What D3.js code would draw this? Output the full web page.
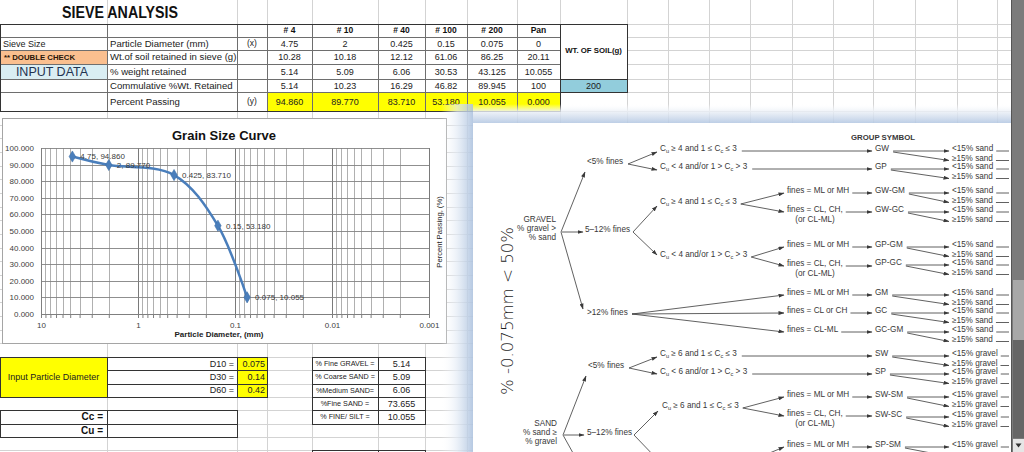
<!DOCTYPE html>
<html lang="en">
<head>
<meta charset="utf-8">
<title>Sieve Analysis</title>
<script src="https://cdnjs.cloudflare.com/ajax/libs/d3/7.8.5/d3.min.js"></script>
<style>
  html, body { margin: 0; padding: 0; background: #fff; overflow: hidden; }
  svg { display: block; font-family: "Liberation Sans", Arial, sans-serif; }
</style>
</head>
<body>
<svg id="sheet" width="1024" height="452"></svg>
<script>
// ---- sieve data ----
var sieves      = ["# 4", "# 10", "# 40", "# 100", "# 200", "Pan"];
var diameters   = [4.75, 2, 0.425, 0.15, 0.075, 0];
var retained    = [10.28, 10.18, 12.12, 61.06, 86.25, 20.11];
var pctRetained = [5.14, 5.09, 6.06, 30.53, 43.125, 10.055];
var cumRetained = [5.14, 10.23, 16.29, 46.82, 89.945, 100];
var pctPassing  = [94.860, 89.770, 83.710, 53.180, 10.055, 0.000];
var soilWeight  = 200;

var rowNames = ["Particle Diameter (mm)", "Wt.of soil retained in sieve (g)",
                "% weight retained", "Commulative %Wt. Retained", "Percent Passing"];

var xTicks = [10, 1, 0.1, 0.01, 0.001];
var yTicks = [0, 10, 20, 30, 40, 50, 60, 70, 80, 90, 100];

var dNames  = ["D10 =", "D30 =", "D60 ="];
var dValues = ["0.075", "0.14", "0.42"];
var fractionNames  = ["% Fine GRAVEL =", "% Coarse SAND =", "%Medium SAND=", "%Fine  SAND =", "% FINE/ SILT ="];
var fractionValues = ["5.14", "5.09", "6.06", "73.655", "10.055"];

// USCS flow chart labels (scanned page)
var gravelSymbols = ["GW", "GP", "GW-GM", "GW-GC", "GP-GM", "GP-GC", "GM", "GC", "GC-GM"];
var sandSymbols   = ["SW", "SP", "SW-SM", "SW-SC", "SP-SM"];

// ---- sheet layout ----
var W = 1024, H = 452;
var colEdges = [0, 107, 237, 267, 312, 378, 425, 467, 517, 560, 627, 668, 709, 750, 792, 833, 873, 915, 957, 997];
var rowEdges = [0, 24, 37, 50, 64, 79, 92, 111];
for (var i = 1; i <= 18; i++) rowEdges.push(111 + i * 13.667);
for (var j = 1; j <= 7; j++) rowEdges.push(357 + j * 13.3);

var svg = d3.select("#sheet");
var px = function (v) { return Math.round(v) + 0.5; };

var defs = svg.append("defs");
var gl = defs.append("linearGradient").attr("id", "glowL").attr("x1", 0).attr("x2", 1).attr("y1", 0).attr("y2", 0);
gl.append("stop").attr("offset", 0).attr("stop-color", "#ffffff").attr("stop-opacity", 0);
gl.append("stop").attr("offset", 0.5).attr("stop-color", "#e3ebf5").attr("stop-opacity", 0.7);
gl.append("stop").attr("offset", 1).attr("stop-color", "#aec3df").attr("stop-opacity", 0.9);
var gt = defs.append("linearGradient").attr("id", "glowT").attr("x1", 0).attr("x2", 0).attr("y1", 0).attr("y2", 1);
gt.append("stop").attr("offset", 0).attr("stop-color", "#ffffff").attr("stop-opacity", 0);
gt.append("stop").attr("offset", 0.35).attr("stop-color", "#eef2f8").attr("stop-opacity", 0.8);
gt.append("stop").attr("offset", 1).attr("stop-color", "#b6c9e3").attr("stop-opacity", 0.9);
defs.append("marker").attr("id", "ah").attr("markerUnits", "userSpaceOnUse")
    .attr("markerWidth", 6).attr("markerHeight", 4).attr("refX", 5.5).attr("refY", 2)
    .attr("orient", "auto")
  .append("path").attr("d", "M0,0L6,2L0,4Z").attr("fill", "#3a3a3a");

// gridlines of the worksheet
var grid = svg.append("g");
grid.selectAll("line.v").data(colEdges.slice(1)).enter().append("line")
    .attr("x1", px).attr("x2", px).attr("y1", 0).attr("y2", H)
    .attr("stroke", "#d3d3d3");
grid.selectAll("line.h").data(rowEdges.slice(1)).enter().append("line")
    .attr("x1", 0).attr("x2", W).attr("y1", px).attr("y2", px)
    .attr("stroke", "#d3d3d3");

// ---- helpers ----
var sheetG = svg.append("g");
function cell(g, x0, x1, y0, y1, fill, stroke) {
    g.append("rect")
        .attr("x", px(x0)).attr("y", px(y0))
        .attr("width", Math.round(x1) - Math.round(x0))
        .attr("height", Math.round(y1) - Math.round(y0))
        .attr("fill", fill || "none")
        .attr("stroke", stroke || "#5a5a5a");
}
function txt(g, x, y, s, size, anchor, weight, fill) {
    return g.append("text")
        .attr("x", x).attr("y", y).attr("dy", "0.35em")
        .attr("font-size", size)
        .attr("text-anchor", anchor || "start")
        .attr("font-weight", weight || "normal")
        .attr("fill", fill || "#222")
        .text(s);
}
function C(i) { return [colEdges[i], colEdges[i + 1]]; }
function R(i) { return [rowEdges[i], rowEdges[i + 1]]; }
function mid(a) { return (a[0] + a[1]) / 2; }

// ---- top table ----
txt(sheetG, 62, 12, "SIEVE ANALYSIS", 17, "start", "bold", "#111")
    .attr("textLength", 116).attr("lengthAdjust", "spacingAndGlyphs");

var fills = {};
fills["0_3"] = "#fabf8f";
fills["0_4"] = "#daeef3";
for (var c = 3; c <= 8; c++) fills[c + "_6"] = "#ffff00";

for (var r = 1; r <= 6; r++) {
    for (var c = 0; c <= 8; c++) {
        var cx = C(c), ry = R(r);
        cell(sheetG, cx[0], cx[1], ry[0], ry[1], fills[c + "_" + r] || "#fff", "#6e6e6e");
    }
}
cell(sheetG, 0, colEdges[9], rowEdges[1], rowEdges[7], "none", "#333");
// weight of soil box
cell(sheetG, colEdges[9], colEdges[10], rowEdges[1], rowEdges[5], "#fff", "#333");
cell(sheetG, colEdges[9], colEdges[10], rowEdges[5], rowEdges[6], "#92cddc", "#333");
txt(sheetG, mid(C(9)), 50, "WT. OF SOIL(g)", 7.8, "middle", "bold", "#111");
txt(sheetG, mid(C(9)), mid(R(5)), String(soilWeight), 9, "middle", "normal", "#1a1a1a");

sieves.forEach(function (s, k) {
    txt(sheetG, mid(C(k + 3)), mid(R(1)), s, 8.5, "middle", "bold", "#111");
});
rowNames.forEach(function (s, k) {
    txt(sheetG, colEdges[1] + 3, mid(R(k + 2)), s, 9.6, "start", "normal", "#222");
});
txt(sheetG, 3, mid(R(2)), "Sieve Size", 9, "start", "normal", "#222");
txt(sheetG, 4, mid(R(3)), "** DOUBLE CHECK", 7.8, "start", "bold", "#2a1608");
txt(sheetG, 52, mid(R(4)), "INPUT DATA", 12.5, "middle", "normal", "#1f3350");
txt(sheetG, mid(C(2)), mid(R(2)), "(x)", 8.5, "middle", "normal", "#222");
txt(sheetG, mid(C(2)), mid(R(6)), "(y)", 8.5, "middle", "normal", "#222");

var tableRows = [
    diameters.map(String),
    retained.map(String),
    pctRetained.map(String),
    cumRetained.map(String),
    pctPassing.map(function (v) { return v.toFixed(3); })
];
tableRows.forEach(function (vals, k) {
    vals.forEach(function (v, n) {
        txt(sheetG, mid(C(n + 3)), mid(R(k + 2)), v, 9, "middle", "normal", "#222");
    });
});

// ---- bottom tables ----
var bEdges = [357, 370.3, 383.6, 396.9, 410.2, 423.5, 436.8, 450.1];
cell(sheetG, 0, colEdges[1], bEdges[0], bEdges[3], "#ffff00", "#333");
txt(sheetG, mid(C(0)), mid([bEdges[0], bEdges[3]]), "Input Particle Diameter", 9, "middle", "normal", "#222");
dNames.forEach(function (s, k) {
    cell(sheetG, colEdges[1], colEdges[2], bEdges[k], bEdges[k + 1], "#fff", "#333");
    cell(sheetG, colEdges[2], colEdges[3], bEdges[k], bEdges[k + 1], "#ffff00", "#333");
    txt(sheetG, colEdges[2] - 3, mid([bEdges[k], bEdges[k + 1]]), s, 9, "end", "normal", "#222");
    txt(sheetG, colEdges[3] - 2, mid([bEdges[k], bEdges[k + 1]]), dValues[k], 9, "end", "normal", "#222");
});
["Cc =", "Cu ="].forEach(function (s, k) {
    cell(sheetG, 0, colEdges[1], bEdges[k + 4], bEdges[k + 5], "#fff", "#333");
    cell(sheetG, colEdges[1], colEdges[2], bEdges[k + 4], bEdges[k + 5], "#fff", "#333");
    txt(sheetG, colEdges[1] - 4, mid([bEdges[k + 4], bEdges[k + 5]]), s, 10, "end", "bold", "#111");
});
fractionNames.forEach(function (s, k) {
    cell(sheetG, colEdges[4], colEdges[5], bEdges[k], bEdges[k + 1], "#fff", "#333");
    cell(sheetG, colEdges[5], colEdges[6], bEdges[k], bEdges[k + 1], "#fff", "#333");
    txt(sheetG, mid(C(4)), mid([bEdges[k], bEdges[k + 1]]), s, 7.2, "middle", "normal", "#222");
    txt(sheetG, mid(C(5)), mid([bEdges[k], bEdges[k + 1]]), fractionValues[k], 9, "middle", "normal", "#222");
});
cell(sheetG, colEdges[4], colEdges[5], bEdges[7], H + 5, "#fff", "#333");
cell(sheetG, colEdges[5], colEdges[6], bEdges[7], H + 5, "#fff", "#333");

// ---- grain size chart ----
var chart = svg.append("g");
chart.append("rect").attr("x", 2.5).attr("y", 118.5).attr("width", 444).attr("height", 225)
    .attr("fill", "#fff").attr("stroke", "#a5a5a5");

var x = d3.scaleLog().domain([10, 0.001]).range([41, 429]);
var y = d3.scaleLinear().domain([0, 100]).range([314, 148]);

var minor = x.ticks().filter(function (d) {
    return Math.abs(Math.log10(d) - Math.round(Math.log10(d))) > 1e-6;
});

chart.append("g").selectAll("line").data(minor).enter().append("line")
    .attr("x1", function (d) { return px(x(d)); }).attr("x2", function (d) { return px(x(d)); })
    .attr("y1", y(100)).attr("y2", y(0))
    .attr("stroke", "#9c9c9c").attr("stroke-width", 0.8);
chart.append("g").selectAll("line").data(xTicks).enter().append("line")
    .attr("x1", function (d) { return px(x(d)); }).attr("x2", function (d) { return px(x(d)); })
    .attr("y1", y(100)).attr("y2", y(0))
    .attr("stroke", "#7a7a7a").attr("stroke-width", 1);
chart.append("g").selectAll("line").data(yTicks).enter().append("line")
    .attr("x1", x(10)).attr("x2", x(0.001))
    .attr("y1", function (d) { return px(y(d)); }).attr("y2", function (d) { return px(y(d)); })
    .attr("stroke", "#828282").attr("stroke-width", 0.9);

var yAxis = chart.append("g").attr("transform", "translate(" + x(10) + ",0)")
    .call(d3.axisLeft(y).tickValues(yTicks).tickFormat(d3.format(".3f")).tickSize(0).tickPadding(7));
yAxis.select(".domain").attr("stroke", "#7f7f7f");
yAxis.selectAll("text").attr("font-size", 8).attr("fill", "#404040")
    .attr("font-family", "Liberation Sans, Arial, sans-serif");

var xMinorAxis = chart.append("g").attr("transform", "translate(0," + y(0) + ")")
    .call(d3.axisBottom(x).tickValues(x.ticks()).tickFormat("").tickSize(4));
xMinorAxis.selectAll("line").attr("stroke", "#7f7f7f");
xMinorAxis.select(".domain").attr("stroke", "#7f7f7f");

var xAxis = chart.append("g").attr("transform", "translate(0," + y(0) + ")")
    .call(d3.axisBottom(x).tickValues(xTicks).tickFormat(d3.format("~g")).tickSize(0).tickPadding(8));
xAxis.select(".domain").remove();
xAxis.selectAll("text").attr("font-size", 8).attr("fill", "#404040")
    .attr("font-family", "Liberation Sans, Arial, sans-serif");

chart.append("text").attr("x", 224).attr("y", 140).attr("text-anchor", "middle")
    .attr("font-size", 13.5).attr("font-weight", "bold").attr("fill", "#111")
    .attr("textLength", 104).attr("lengthAdjust", "spacingAndGlyphs")
    .text("Grain Size Curve");
chart.append("text").attr("x", 219).attr("y", 334).attr("dy", "0.35em").attr("text-anchor", "middle")
    .attr("font-size", 8).attr("font-weight", "bold").attr("fill", "#222")
    .text("Particle Diameter, (mm)");
chart.append("text").attr("transform", "translate(439,232) rotate(-90)")
    .attr("dy", "0.35em").attr("text-anchor", "middle")
    .attr("font-size", 7.6).attr("fill", "#222")
    .text("Percent Passing, (%)");

var points = diameters.map(function (d, k) { return { d: d, p: pctPassing[k] }; })
    .filter(function (o) { return o.d > 0; });

var line = d3.line()
    .x(function (o) { return x(o.d); })
    .y(function (o) { return y(o.p); })
    .curve(d3.curveCardinal.tension(0));
chart.append("path").datum(points).attr("d", line)
    .attr("fill", "none").attr("stroke", "#4a7ebb").attr("stroke-width", 2.5);
chart.append("g").selectAll("path").data(points).enter().append("path")
    .attr("transform", function (o) { return "translate(" + x(o.d) + "," + y(o.p) + ")"; })
    .attr("d", d3.symbol().type(d3.symbolDiamond).size(36))
    .attr("fill", "#4a7ebb").attr("stroke", "#3d6ea8").attr("stroke-width", 0.6);
chart.append("g").selectAll("text").data(points).enter().append("text")
    .attr("x", function (o) { return x(o.d) + 8; })
    .attr("y", function (o) { return y(o.p); })
    .attr("dy", "0.35em")
    .attr("font-size", 8).attr("fill", "#3a3a3a")
    .text(function (o) { return o.d + ", " + o.p.toFixed(3); });

// ---- scanned USCS page ----
var page = svg.append("g");
page.append("rect").attr("x", 441).attr("y", 104).attr("width", 32).attr("height", H - 104).attr("fill", "url(#glowL)");
page.append("rect").attr("x", 473).attr("y", 104).attr("width", 540).attr("height", 19).attr("fill", "url(#glowT)");
page.append("rect").attr("x", 473).attr("y", 123).attr("width", 538).attr("height", H - 123).attr("fill", "#fff");

var ink = "#383838";
var fc = page.append("g").attr("font-size", 8.2).attr("fill", ink);

function rich(x0, y0, s, anchor) {
    var t = fc.append("text").attr("x", x0).attr("y", y0).attr("dy", "0.35em")
        .attr("text-anchor", anchor || "start");
    var parts = s.split(/(_[a-z])/);
    var shifted = false;
    parts.forEach(function (p) {
        if (!p) return;
        if (p[0] === "_") {
            t.append("tspan").attr("dy", 2).attr("font-size", 5.6).text(p[1]);
            shifted = true;
        } else {
            t.append("tspan").attr("dy", shifted ? -2 : 0).text(p);
            shifted = false;
        }
    });
    return t;
}
function seg(x1, y1, x2, y2, head) {
    var l = fc.append("line").attr("x1", x1).attr("y1", y1).attr("x2", x2).attr("y2", y2)
        .attr("stroke", ink).attr("stroke-width", 0.8);
    if (head !== false) l.attr("marker-end", "url(#ah)");
}
function width(t) { return t.node().getComputedTextLength(); }

fc.append("text").attr("x", 883).attr("y", 137).attr("dy", "0.35em").attr("text-anchor", "middle")
    .attr("font-weight", "bold").attr("font-size", 7.8).text("GROUP SYMBOL");

// symbols with their sand / gravel sub branches
var symbolRowsY = [151, 169, 193, 212, 247, 265, 295, 313, 332, 356, 374, 397, 417, 447];
gravelSymbols.concat(sandSymbols).forEach(function (s, k) {
    var yy = symbolRowsY[k];
    var t = rich(875, yy, s);
    var x1 = 875 + width(t) + 4;
    var word = k < gravelSymbols.length ? "sand" : "gravel";
    seg(x1, yy, 949, yy);
    seg(x1, yy + 1, 949, yy + 9.5);
    var a = rich(952, yy, "<15% " + word);
    seg(952 + width(a) + 3, yy, 1009, yy, false);
    if (yy + 9.5 < H - 3) {
        var b = rich(952, yy + 9.5, "\u226515% " + word);
        seg(952 + width(b) + 3, yy + 9.5, 1009, yy + 9.5, false);
    }
});

// gravel branch
rich(556, 222, "GRAVEL", "end");
rich(556, 231, "% gravel >", "end");
rich(556, 240, "% sand", "end");
seg(561, 232, 585, 172);
seg(562, 232, 583, 232);
seg(561, 232, 583, 309);
rich(587, 164, "<5% fines");
rich(585, 232, "5\u201312% fines");
rich(587, 315, ">12% fines");

seg(628, 164, 657, 152);
seg(628, 164, 657, 170);
var t1 = rich(660, 151, "C_u \u2265 4 and 1 \u2264 C_c \u2264 3");
var t2 = rich(660, 169, "C_u < 4 and/or 1 > C_c > 3");
seg(660 + width(t1) + 5, 151, 872, 151);
seg(660 + width(t2) + 5, 169, 872, 169);

seg(633, 232, 657, 206);
seg(633, 232, 657, 255);
var t3 = rich(660, 204, "C_u \u2265 4 and 1 \u2264 C_c \u2264 3");
var t4 = rich(660, 257, "C_u < 4 and/or 1 > C_c > 3");

function finesPair(xs, ys, yTop) {
    seg(xs, ys, 784, yTop);
    seg(xs, ys, 784, yTop + 19);
    var a = rich(787, yTop, "fines = ML or MH");
    seg(787 + width(a) + 3, yTop, 872, yTop);
    var b = rich(787, yTop + 19, "fines = CL, CH,");
    seg(787 + width(b) + 3, yTop + 19, 872, yTop + 19);
    rich(815, yTop + 28.5, "(or CL-ML)", "middle");
}
finesPair(660 + width(t3) + 4, 204, 193);
finesPair(660 + width(t4) + 4, 257, 247);

[["fines = ML or MH", 295], ["fines = CL or CH", 313], ["fines = CL-ML", 332]].forEach(function (f) {
    seg(632, 314, 784, f[1]);
    var a = rich(787, f[1], f[0]);
    seg(787 + width(a) + 3, f[1], 872, f[1]);
});

// sand branch
rich(557, 426, "SAND", "end");
rich(557, 435, "% sand \u2265", "end");
rich(557, 444, "% gravel", "end");
seg(563, 435, 586, 376);
seg(564, 435, 584, 435);
seg(563, 435, 578, 462, false);
rich(588, 368, "<5% fines");
rich(587, 435, "5\u201312% fines");

seg(629, 368, 657, 357);
seg(629, 368, 657, 374);
var t5 = rich(660, 356, "C_u \u2265 6 and 1 \u2264 C_c \u2264 3");
var t6 = rich(660, 374, "C_u < 6 and/or 1 > C_c > 3");
seg(660 + width(t5) + 5, 356, 872, 356);
seg(660 + width(t6) + 5, 374, 872, 374);

seg(634, 435, 658, 411);
seg(634, 435, 658, 460, false);
var t7 = rich(662, 408, "C_u \u2265 6 and 1 \u2264 C_c \u2264 3");
finesPair(662 + width(t7) + 4, 408, 397);
seg(748, 462, 784, 447);
var t8 = rich(787, 447, "fines = ML or MH");
seg(787 + width(t8) + 3, 447, 872, 447);

// handwritten note on the scan
page.append("text").attr("transform", "translate(507,311) rotate(-90)")
    .attr("dy", "0.35em").attr("text-anchor", "middle")
    .attr("font-family", "DejaVu Sans, sans-serif").attr("font-size", 16)
    .attr("font-weight", 200)
    .attr("fill", "#1e1e1e")
    .attr("textLength", 168).attr("lengthAdjust", "spacingAndGlyphs")
    .text("% -0.075mm < 50%");

// ---- scroll bar ----
var sb = svg.append("g");
sb.append("rect").attr("x", 1011).attr("y", 0).attr("width", 13).attr("height", H).attr("fill", "#7b7b7b");
sb.append("rect").attr("x", 1013).attr("y", 280).attr("width", 11).attr("height", 60).attr("fill", "#a8a8a8");
sb.append("rect").attr("x", 1013).attr("y", 340).attr("width", 11).attr("height", 98).attr("fill", "#666");
sb.append("rect").attr("x", 1013).attr("y", 439).attr("width", 11).attr("height", 13).attr("fill", "#e6e6e6");
sb.append("path").attr("d", "M1015.5,443.5L1021.5,443.5L1018.5,447.5Z").attr("fill", "#333");
sb.append("line").attr("x1", 1011.5).attr("x2", 1011.5).attr("y1", 0).attr("y2", H).attr("stroke", "#555");
</script>
</body>
</html>
